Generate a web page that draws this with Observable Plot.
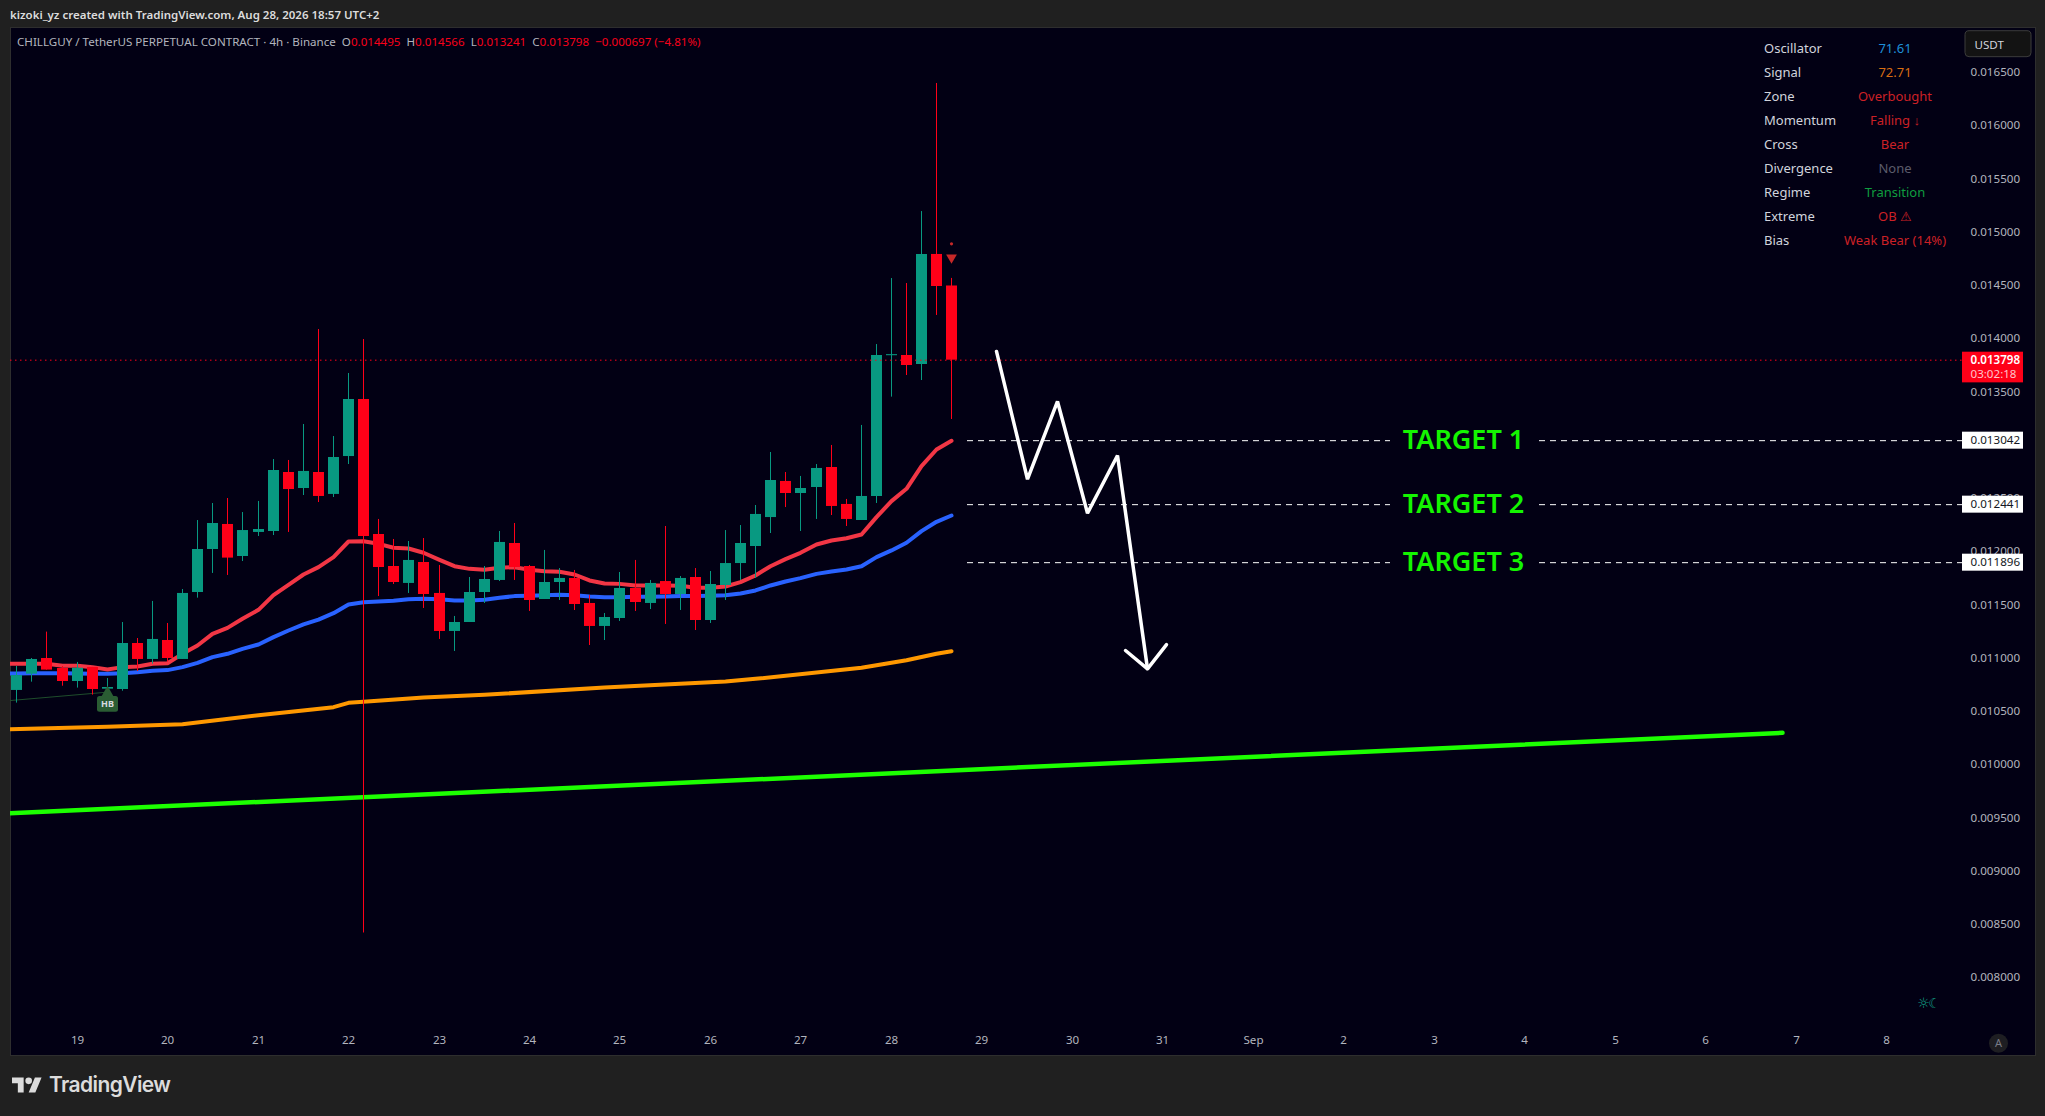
<!DOCTYPE html>
<html>
<head>
<meta charset="utf-8">
<script src="https://cdn.jsdelivr.net/npm/d3@7"></script>
<script src="https://cdn.jsdelivr.net/npm/@observablehq/plot@0.6"></script>
<style>
  html,body{margin:0;padding:0;background:#202020;width:2045px;height:1116px;overflow:hidden;font-family:"Noto Sans",sans-serif;}
  #wrap{position:relative;width:2045px;height:1116px;}
  #header{height:27px;line-height:29px;padding-left:10px;font-size:11.5px;font-weight:600;color:#dcdcdc;box-sizing:border-box;white-space:nowrap;}
  #chart{height:1028px;}
  #chart svg{display:block;}
  #footer{position:relative;height:61px;}
  #logo{position:absolute;left:12px;top:22px;width:30px;height:16px;}
  #brand{position:absolute;left:49px;top:14px;font:600 21px/32px "Inter",sans-serif;letter-spacing:-0.6px;color:#dcdcdc;}
  #legend{position:absolute;left:17px;top:33px;font-size:11.6px;line-height:17px;color:#b2b5be;white-space:pre;}
  #legend b{font-weight:400;color:#f7001a;}
  #panel{position:absolute;left:1764px;top:36px;display:grid;grid-template-columns:61px 140px;grid-auto-rows:24px;line-height:24px;font-size:13px;white-space:nowrap;}
  #panel .k{color:#d1d4dc;}
  #panel .v{text-align:center;}
</style>
</head>
<body>
<div id="wrap">
  <div id="header"></div>
  <div id="chart"></div>
  <div id="footer">
    <svg id="logo" viewBox="0 0 36 18" xmlns="http://www.w3.org/2000/svg"><path fill="#dcdcdc" d="M14 18H7V7H0V0h14v18zM28 18h-8l7.5-18h8L28 18z"/><circle fill="#dcdcdc" cx="20" cy="4" r="4"/></svg>
    <div id="brand">TradingView</div>
  </div>
  <div id="legend"></div>
  <div id="panel"></div>
</div>
<script>
const attribution = "kizoki_yz created with TradingView.com, Aug 28, 2026 18:57 UTC+2";
const symbolLine = "CHILLGUY / TetherUS PERPETUAL CONTRACT · 4h · Binance";
const ohlcLegend = [["O","0.014495"],["H","0.014566"],["L","0.013241"],["C","0.013798"]];
const changeText = "−0.000697 (−4.81%)";

const panelLabels = ["Oscillator","Signal","Zone","Momentum","Cross","Divergence","Regime","Extreme","Bias"];
const panelValues = ["71.61","72.71","Overbought","Falling ↓","Bear","None","Transition","OB ⚠","Weak Bear (14%)"];
const panelColors = ["#1e8fd8","#d96d12","#cc2026","#cc2026","#cc2026","#5c5c6b","#0f9d3f","#cc2026","#cc2026"];

const opens = [.010696,.010849,.010996,.010902,.010780,.010912,.010708,.010705,.011137,.010987,.011165,.010987,.011616,.012020,.012255,.011954,.012180,.012189,.012743,.012593,.012743,.012537,.012893,.013429,.012161,.011860,.011701,.011898,.011607,.011250,.011334,.011616,.011729,.012076,.011860,.011550,.011710,.011748,.011513,.011297,.011372,.011654,.011513,.011719,.011597,.011757,.011353,.011682,.011888,.012048,.012320,.012659,.012546,.012602,.012790,.012443,.012292,.012518,.013840,.013842,.013757,.014791,.014495];
const closes = [.010836,.010987,.010887,.010780,.010905,.010705,.010724,.011137,.010987,.011175,.010996,.011607,.012020,.012264,.011939,.012198,.012208,.012762,.012583,.012753,.012518,.012884,.013429,.012142,.011851,.011710,.011917,.011597,.011250,.011334,.011616,.011738,.012086,.011851,.011541,.011710,.011748,.011503,.011297,.011381,.011654,.011522,.011701,.011597,.011748,.011353,.011691,.011888,.012076,.012349,.012668,.012546,.012593,.012781,.012424,.012302,.012518,.013842,.013850,.013748,.014791,.014490,.013798];
const highs = [.010921,.010996,.011244,.010921,.010959,.010912,.010808,.011334,.011184,.011532,.011325,.011644,.012292,.012452,.012499,.012367,.012471,.012865,.012856,.013194,.014086,.013081,.013673,.013992,.012302,.012114,.012095,.012123,.011870,.011391,.011757,.011860,.012189,.012264,.011870,.012011,.011841,.011823,.011588,.011419,.011804,.011917,.011729,.012236,.011766,.011841,.011813,.012198,.012245,.012433,.012931,.012743,.012706,.012818,.012997,.012490,.013185,.013945,.014565,.014518,.015194,.016397,.014566];
const lows = [.010577,.010774,.010887,.010736,.010718,.010652,.010680,.010689,.010874,.010943,.010962,.010987,.011563,.011795,.011776,.011907,.012142,.012151,.012180,.012527,.012461,.012508,.012818,.008418,.011578,.011691,.011607,.011466,.011175,.011062,.011334,.011513,.011719,.011729,.011438,.011550,.011541,.011447,.011118,.011165,.011344,.011438,.011456,.011316,.011447,.011259,.011325,.011541,.011729,.011748,.012170,.012414,.012189,.012302,.012339,.012236,.012292,.012452,.013451,.013654,.013607,.014218,.013241];

// moving averages: first value sits one bar before the visible window
const fastMA = [.010946,.010946,.010946,.010946,.010927,.010927,.010915,.010893,.010915,.010921,.010946,.010952,.011040,.011118,.011228,.011284,.011369,.011453,.011591,.011688,.011785,.011854,.011948,.012095,.012098,.012073,.012036,.012029,.011989,.011923,.011863,.011838,.011829,.011848,.011854,.011829,.011816,.011810,.011785,.011729,.011701,.011697,.011682,.011682,.011682,.011679,.011660,.011660,.011672,.011713,.011776,.011863,.011929,.011989,.012067,.012104,.012126,.012161,.012324,.012474,.012590,.012803,.012959,.013041];
const slowMA = [.010855,.010855,.010858,.010858,.010858,.010855,.010852,.010852,.010858,.010868,.010880,.010887,.010915,.010955,.011009,.011040,.011087,.011128,.011197,.011259,.011316,.011362,.011422,.011503,.011525,.011532,.011538,.011553,.011557,.011553,.011541,.011541,.011547,.011566,.011582,.011585,.011591,.011594,.011591,.011578,.011572,.011572,.011575,.011575,.011578,.011582,.011582,.011585,.011591,.011607,.011635,.011682,.011719,.011751,.011791,.011813,.011832,.011863,.011948,.012011,.012083,.012192,.012280,.012339];
const longBars = [-1,6,11,16,21,22,23,27,31,39,47,49,56,59,61,62];
const longMA = [.010329,.010355,.010379,.010464,.010539,.010580,.010589,.010630,.010655,.010724,.010780,.010805,.010909,.010980,.011040,.011065];
const trendBars = [-1,117.09];
const trendLine = [.009539,.010298];
const divergenceBars = [-1,6];
const divergenceLine = [.010594,.010680];

const arrowBars = [65,67,69,71,73,75];
const arrowPrices = [.013880,.012680,.013410,.012361,.012903,.010899];
const headBars = [73.54,75,76.23];
const headPrices = [.011071,.010899,.011127];

const targetLabels = ["TARGET 1","TARGET 2","TARGET 3"];
const targetPrices = [.013042,.012441,.011896];
const lastPrice = .013798;
const countdown = "03:02:18";

const dayTickBars = [4,10,16,22,28,34,40,46,52,58,64,70,76,82,88,94,100,106,112,118,124];
const dayTickLabels = ["19","20","21","22","23","24","25","26","27","28","29","30","31","Sep","2","3","4","5","6","7","8"];
const priceTicks = [.008,.0085,.009,.0095,.010,.0105,.011,.0115,.012,.0125,.0135,.014,.0145,.015,.0155,.016,.0165];

const candles = opens.map((o,i)=>({bar:i,open:o,close:closes[i],high:highs[i],low:lows[i]}));
const up = "#089981", down = "#ff0018";
const colorOf = d => d.close >= d.open ? up : down;
const series = (bars,vals) => vals.map((v,i)=>({bar:bars[i],price:v}));
const fromMinusOne = vals => vals.map((v,i)=>({bar:i-1,price:v}));

document.getElementById("header").textContent = attribution;
const leg = document.getElementById("legend");
leg.innerHTML = symbolLine + "  " + ohlcLegend.map(([k,v])=>`${k}<b>${v}</b>`).join("  ") + `  <b>${changeText}</b>`;
const panel = document.getElementById("panel");
panelLabels.forEach((l,i)=>{
  const a=document.createElement("div");a.className="k";a.textContent=l;panel.appendChild(a);
  const b=document.createElement("div");b.className="v";b.textContent=panelValues[i];b.style.color=panelColors[i];panel.appendChild(b);
});

const tagHalf = .0000798;
const chart = Plot.plot({
  width:2045,height:1028,
  marginLeft:10,marginRight:10,marginTop:0,marginBottom:0,
  x:{type:"linear",domain:[-0.418,133.87],round:true},
  y:{type:"linear",domain:[.0072673,.0169227]},
  style:{background:"transparent",fontFamily:"'Noto Sans',sans-serif",fontSize:"11.6px",overflow:"visible"},
  marks:[
    Plot.frame({fill:"#020014",stroke:"#2e2e2e",strokeWidth:1}),
    Plot.axisY({anchor:"right",ticks:priceTicks,tickSize:0,tickPadding:-65,tickFormat:d=>d.toFixed(6),fill:"#b2b5be",label:null}),
    Plot.axisX({anchor:"bottom",ticks:dayTickBars,tickSize:0,tickPadding:-20,tickFormat:d=>dayTickLabels[dayTickBars.indexOf(d)],fill:"#b2b5be",label:null}),
    Plot.line(series(trendBars,trendLine),{x:"bar",y:"price",stroke:"#1cff00",strokeWidth:4.5,clip:true}),
    Plot.line(series(longBars,longMA),{x:"bar",y:"price",stroke:"#ff9800",strokeWidth:4,clip:true}),
    Plot.line(fromMinusOne(slowMA),{x:"bar",y:"price",stroke:"#2962ff",strokeWidth:4,clip:true}),
    Plot.line(fromMinusOne(fastMA),{x:"bar",y:"price",stroke:"#f23645",strokeWidth:4,clip:true}),
    Plot.line(series(divergenceBars,divergenceLine),{x:"bar",y:"price",stroke:"#1f4d2c",strokeWidth:1,clip:true}),
    Plot.ruleX(candles,{x:"bar",y1:"low",y2:"high",stroke:colorOf,strokeWidth:1}),
    Plot.ruleX(candles,{x:"bar",y1:"open",y2:"close",stroke:colorOf,strokeWidth:11}),
    Plot.dot([{bar:6,price:.010659}],{x:"bar",y:"price",symbol:"triangle",r:5.5,fill:"#2a5c33"}),
    Plot.rect([{a:5.37,b:6.73,c:.010492,d:.010639}],{x1:"a",x2:"b",y1:"c",y2:"d",fill:"#2a5c33",rx:2.5}),
    Plot.text([{bar:6,price:.010567,t:"HB"}],{x:"bar",y:"price",text:"t",fill:"#d8dbe0",fontSize:9,fontWeight:700}),
    Plot.dot([{bar:62,price:.014891}],{x:"bar",y:"price",r:1.6,fill:"#c62828"}),
    Plot.dot([{bar:62,price:.014762}],{x:"bar",y:"price",symbol:"triangle",r:4,rotate:180,fill:"#c62828"}),
    Plot.ruleY([lastPrice],{x1:-0.418,x2:129.0,stroke:down,strokeWidth:1,strokeDasharray:"1.5,3.5"}),
    Plot.ruleY(targetPrices,{x1:63.04,x2:91.1,stroke:"#ffffff",strokeWidth:1,strokeDasharray:"6,5"}),
    Plot.ruleY(targetPrices,{x1:101,x2:129,stroke:"#ffffff",strokeWidth:1,strokeDasharray:"6,5"}),
    Plot.text(targetLabels.map((t,i)=>({t,price:targetPrices[i],bar:95.93})),{x:"bar",y:"price",text:"t",fill:"#14f500",fontSize:27,fontWeight:600}),
    Plot.line(series(arrowBars,arrowPrices),{x:"bar",y:"price",stroke:"#ffffff",strokeWidth:3.5,strokeLinejoin:"miter",strokeLinecap:"round"}),
    Plot.line(series(headBars,headPrices),{x:"bar",y:"price",stroke:"#ffffff",strokeWidth:3.5,strokeLinejoin:"miter",strokeLinecap:"round"}),
    Plot.rect(targetPrices,{x1:129,x2:133.1,y1:d=>d-tagHalf,y2:d=>d+tagHalf,fill:"#ffffff"}),
    Plot.text(targetPrices,{x:129.56,y:d=>d,text:d=>d.toFixed(6),textAnchor:"start",fill:"#131722"}),
    Plot.rect([lastPrice],{x1:129,x2:133.1,y1:d=>d-.000213,y2:d=>d+.000075,fill:"#ff0018"}),
    Plot.text([lastPrice],{x:129.56,y:d=>d,text:d=>d.toFixed(6),textAnchor:"start",fill:"#ffffff",fontWeight:600}),
    Plot.text([lastPrice],{x:129.56,y:d=>d-.000132,text:()=>countdown,textAnchor:"start",fill:"#ffc4cc"}),
    Plot.rect([{a:129.2,b:133.6,c:.016644,d:.016888}],{x1:"a",x2:"b",y1:"c",y2:"d",fill:"#131313",stroke:"#3c3c3c",rx:4}),
    Plot.text([{bar:129.8,price:.016756,t:"USDT"}],{x:"bar",y:"price",text:"t",textAnchor:"start",fill:"#d1d4dc"}),
    Plot.text([{bar:126.43,price:.007755,t:"☼"},{bar:127.2,price:.007755,t:"☾"}],{x:"bar",y:"price",text:"t",fill:"#12a38a",fontSize:14,fontFamily:"DejaVu Sans"}),
    Plot.dot([{bar:131.4,price:.007383}],{x:"bar",y:"price",r:9.5,fill:"#1e1e22"}),
    Plot.text([{bar:131.4,price:.007383,t:"A"}],{x:"bar",y:"price",text:"t",fill:"#787b86",fontSize:11})
  ]
});
document.getElementById("chart").appendChild(chart);
</script>
</body>
</html>
